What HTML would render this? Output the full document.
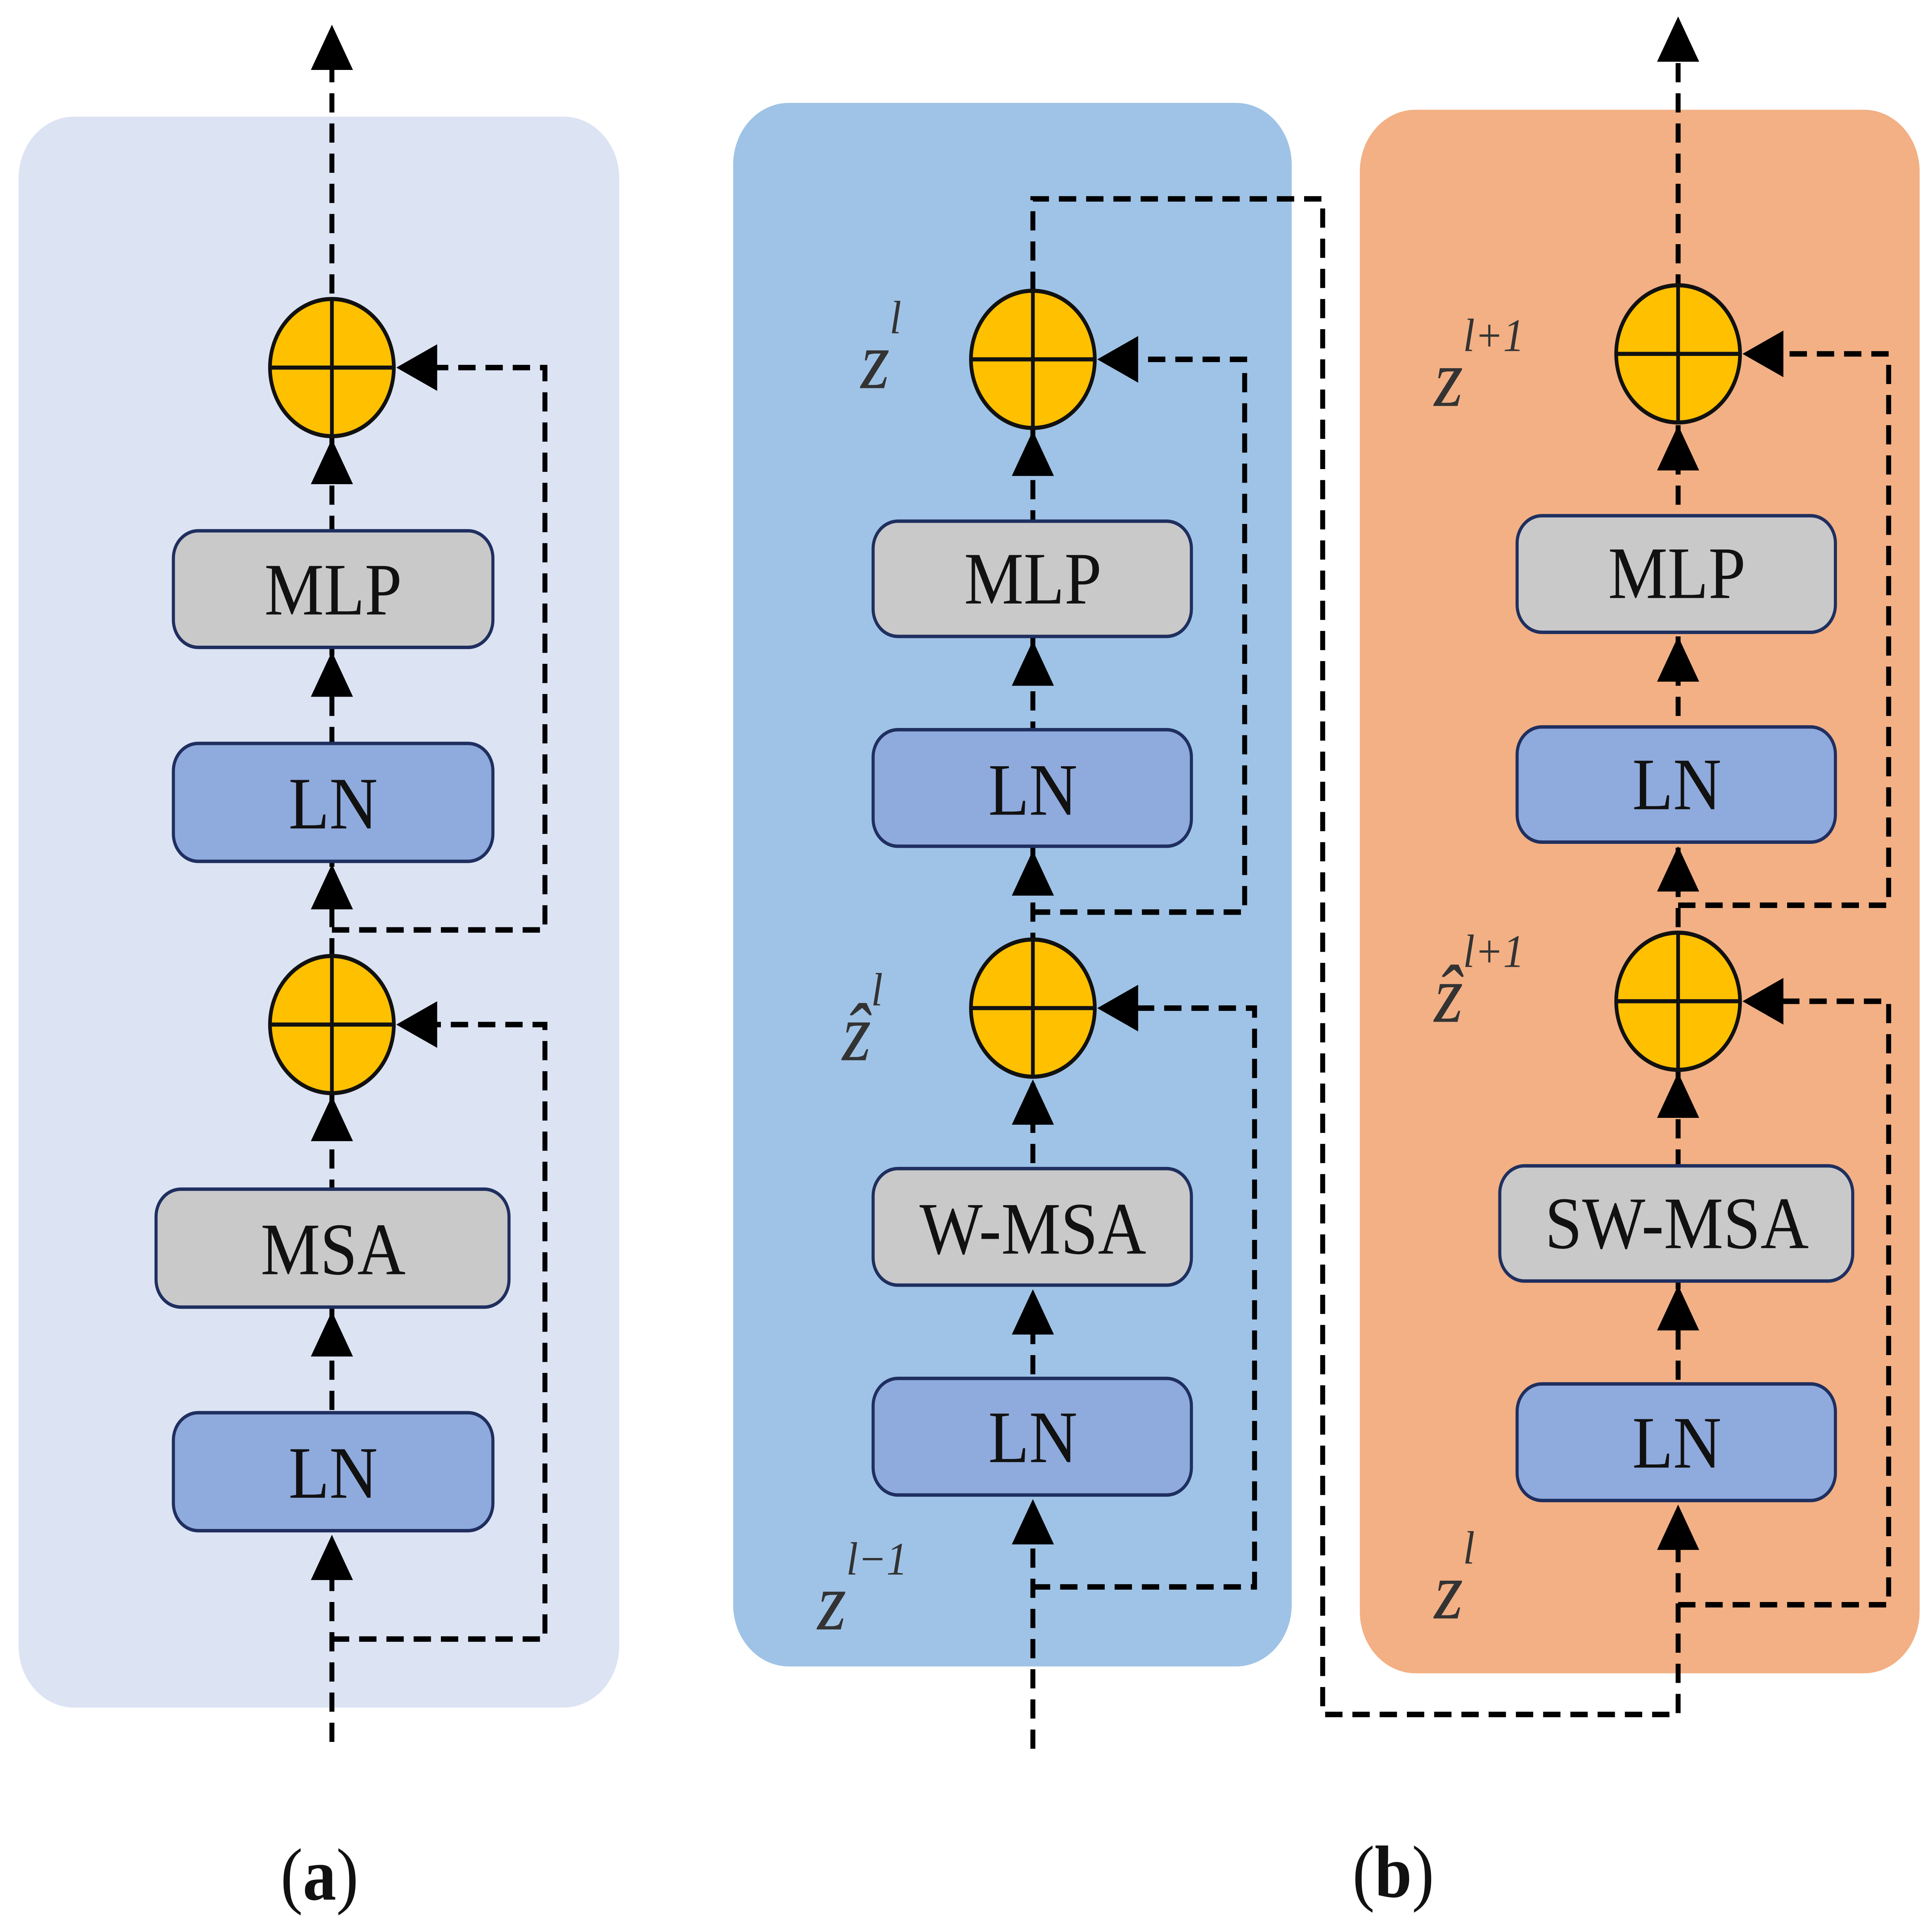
<!DOCTYPE html>
<html><head><meta charset="utf-8"><style>
html,body{margin:0;padding:0;background:#fff;width:100vw;height:100vh;overflow:hidden;}
svg{display:block;position:fixed;left:0;top:0;width:100vw;height:100vh;}
</style></head><body>
<svg viewBox="0 0 1560 1408.6" preserveAspectRatio="none" xmlns="http://www.w3.org/2000/svg" font-family="Liberation Serif, serif">
<defs>
<g id="ci"><circle r="50" fill="#ffc000" stroke="#111" stroke-width="3"/><line x1="-50" y1="0" x2="50" y2="0" stroke="#111" stroke-width="3"/><line x1="0" y1="-50" x2="0" y2="50" stroke="#111" stroke-width="3"/></g>
<polygon id="au" points="0,0 -17,33 17,33" fill="#000"/>
<polygon id="al" points="0,0 33,-17 33,17" fill="#000"/>
</defs>
<rect x="15" y="85" width="485" height="1160" rx="45" fill="#dce3f3"/>
<rect x="592" y="75" width="451" height="1140" rx="45" fill="#9fc3e6"/>
<rect x="1098" y="80" width="452" height="1140" rx="45" fill="#f2b084"/>
<g fill="none" stroke="#000" stroke-width="4" stroke-dasharray="14 8">
<path d="M268 1270 V40"/>
<path d="M268 1195 H440 V747 H345"/>
<path d="M268 678 H440 V268 H345"/>
<path d="M834 1275 V1100"/>
<path d="M834 1090 V230"/>
<path d="M834 1157 H1013 V735 H910"/>
<path d="M834 665 H1005 V262 H910"/>
<path d="M834 212 V145 H1068 V1250 H1355 V1110"/>
<path d="M1355 1094 V35"/>
<path d="M1355 1170 H1525 V730 H1430"/>
<path d="M1355 660 H1525 V258 H1430"/>
</g>
<g stroke="#1f2f5f" stroke-width="2.5">
<rect x="140" y="387" width="258" height="85" rx="20" fill="#c9c9c9"/>
<rect x="140" y="542" width="258" height="86" rx="20" fill="#8faadc"/>
<rect x="126" y="867" width="285" height="86" rx="20" fill="#c9c9c9"/>
<rect x="140" y="1030" width="258" height="86" rx="20" fill="#8faadc"/>
<rect x="705" y="380" width="257" height="84" rx="20" fill="#c9c9c9"/>
<rect x="705" y="532" width="257" height="85" rx="20" fill="#8faadc"/>
<rect x="705" y="852" width="257" height="85" rx="20" fill="#c9c9c9"/>
<rect x="705" y="1005" width="257" height="85" rx="20" fill="#8faadc"/>
<rect x="1225" y="376" width="257" height="85" rx="20" fill="#c9c9c9"/>
<rect x="1225" y="530" width="257" height="84" rx="20" fill="#8faadc"/>
<rect x="1211" y="850" width="285" height="84" rx="20" fill="#c9c9c9"/>
<rect x="1225" y="1009" width="257" height="85" rx="20" fill="#8faadc"/>
</g>
<use href="#ci" x="268" y="268"/><use href="#ci" x="268" y="747"/>
<use href="#ci" x="834" y="262"/><use href="#ci" x="834" y="735"/>
<use href="#ci" x="1355" y="258"/><use href="#ci" x="1355" y="730"/>
<use href="#au" x="268" y="18"/><use href="#au" x="268" y="320"/><use href="#au" x="268" y="475"/><use href="#au" x="268" y="630"/><use href="#au" x="268" y="799"/><use href="#au" x="268" y="956"/><use href="#au" x="268" y="1119"/>
<use href="#au" x="834" y="314"/><use href="#au" x="834" y="467"/><use href="#au" x="834" y="620"/><use href="#au" x="834" y="787"/><use href="#au" x="834" y="940"/><use href="#au" x="834" y="1093"/>
<use href="#au" x="1355" y="12"/><use href="#au" x="1355" y="310"/><use href="#au" x="1355" y="464"/><use href="#au" x="1355" y="617"/><use href="#au" x="1355" y="782"/><use href="#au" x="1355" y="937"/><use href="#au" x="1355" y="1097"/>
<use href="#al" x="320" y="268"/><use href="#al" x="320" y="747"/>
<use href="#al" x="886" y="262"/><use href="#al" x="886" y="735"/>
<use href="#al" x="1407" y="258"/><use href="#al" x="1407" y="730"/>
<g font-size="54" text-anchor="middle" fill="#111">
<text x="269" y="448">MLP</text><text x="269" y="604">LN</text><text x="269" y="929">MSA</text><text x="269" y="1092">LN</text>
<text x="834" y="440">MLP</text><text x="834" y="594">LN</text><text x="834" y="914">W-MSA</text><text x="834" y="1066">LN</text>
<text x="1354" y="436">MLP</text><text x="1354" y="590">LN</text><text x="1354" y="910">SW-MSA</text><text x="1354" y="1070">LN</text>
</g>
<g font-style="italic" fill="#333" font-size="60">
<text x="695" y="283">z<tspan font-size="34" dy="-40">l</tspan></text>
<text x="680" y="773">ẑ<tspan font-size="34" dy="-40">l</tspan></text>
<text x="660" y="1188">z<tspan font-size="34" dy="-40">l−1</tspan></text>
<text x="1158" y="296">z<tspan font-size="34" dy="-40">l+1</tspan></text>
<text x="1158" y="745">ẑ<tspan font-size="34" dy="-40">l+1</tspan></text>
<text x="1158" y="1180">z<tspan font-size="34" dy="-40">l</tspan></text>
</g>
<g font-size="54" text-anchor="middle" fill="#111">
<text x="258" y="1385">(<tspan font-weight="bold">a</tspan>)</text>
<text x="1125" y="1383">(<tspan font-weight="bold">b</tspan>)</text>
</g>
</svg>
</body></html>
